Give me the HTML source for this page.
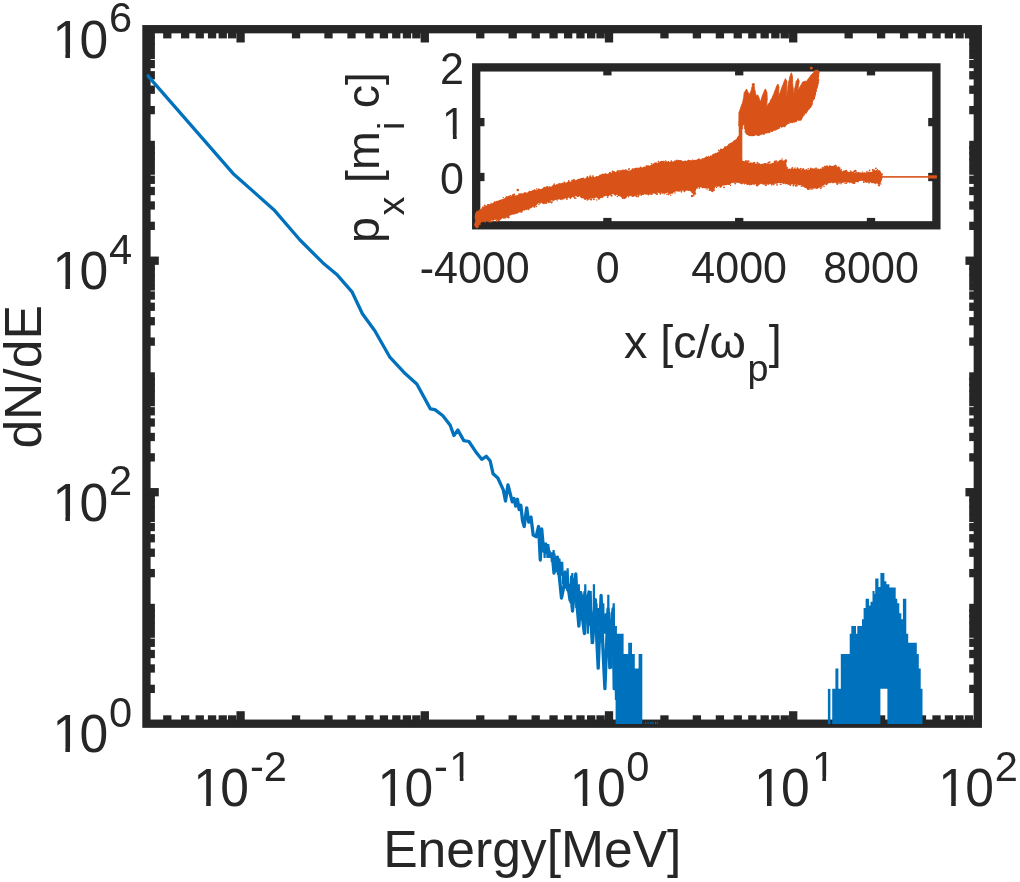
<!DOCTYPE html>
<html lang="en"><head><meta charset="utf-8"><title>dN/dE spectrum</title>
<style>html,body{margin:0;padding:0;background:#fff}svg{display:block}</style></head><body>
<svg width="1020" height="882" viewBox="0 0 1020 882">
<rect width="1020" height="882" fill="#fff"/>
<g id="main-axes">
<rect x="146.45" y="29.2" width="831.35" height="694.5" fill="none" stroke="#262626" stroke-width="8.3"/>
<line x1="167.3" y1="723.7" x2="167.3" y2="715.3" stroke="#262626" stroke-width="8.3"/>
<line x1="167.3" y1="29.2" x2="167.3" y2="38.4" stroke="#262626" stroke-width="8.3"/>
<line x1="185.15" y1="723.7" x2="185.15" y2="715.3" stroke="#262626" stroke-width="8.3"/>
<line x1="185.15" y1="29.2" x2="185.15" y2="38.4" stroke="#262626" stroke-width="8.3"/>
<line x1="199.74" y1="723.7" x2="199.74" y2="715.3" stroke="#262626" stroke-width="8.3"/>
<line x1="199.74" y1="29.2" x2="199.74" y2="38.4" stroke="#262626" stroke-width="8.3"/>
<line x1="212.07" y1="723.7" x2="212.07" y2="715.3" stroke="#262626" stroke-width="8.3"/>
<line x1="212.07" y1="29.2" x2="212.07" y2="38.4" stroke="#262626" stroke-width="8.3"/>
<line x1="222.75" y1="723.7" x2="222.75" y2="715.3" stroke="#262626" stroke-width="8.3"/>
<line x1="222.75" y1="29.2" x2="222.75" y2="38.4" stroke="#262626" stroke-width="8.3"/>
<line x1="232.17" y1="723.7" x2="232.17" y2="715.3" stroke="#262626" stroke-width="8.3"/>
<line x1="232.17" y1="29.2" x2="232.17" y2="38.4" stroke="#262626" stroke-width="8.3"/>
<line x1="240.6" y1="723.7" x2="240.6" y2="711.2" stroke="#262626" stroke-width="8.3"/>
<line x1="240.6" y1="29.2" x2="240.6" y2="42.5" stroke="#262626" stroke-width="8.3"/>
<line x1="296.05" y1="723.7" x2="296.05" y2="715.3" stroke="#262626" stroke-width="8.3"/>
<line x1="296.05" y1="29.2" x2="296.05" y2="38.4" stroke="#262626" stroke-width="8.3"/>
<line x1="328.49" y1="723.7" x2="328.49" y2="715.3" stroke="#262626" stroke-width="8.3"/>
<line x1="328.49" y1="29.2" x2="328.49" y2="38.4" stroke="#262626" stroke-width="8.3"/>
<line x1="351.5" y1="723.7" x2="351.5" y2="715.3" stroke="#262626" stroke-width="8.3"/>
<line x1="351.5" y1="29.2" x2="351.5" y2="38.4" stroke="#262626" stroke-width="8.3"/>
<line x1="369.35" y1="723.7" x2="369.35" y2="715.3" stroke="#262626" stroke-width="8.3"/>
<line x1="369.35" y1="29.2" x2="369.35" y2="38.4" stroke="#262626" stroke-width="8.3"/>
<line x1="383.94" y1="723.7" x2="383.94" y2="715.3" stroke="#262626" stroke-width="8.3"/>
<line x1="383.94" y1="29.2" x2="383.94" y2="38.4" stroke="#262626" stroke-width="8.3"/>
<line x1="396.27" y1="723.7" x2="396.27" y2="715.3" stroke="#262626" stroke-width="8.3"/>
<line x1="396.27" y1="29.2" x2="396.27" y2="38.4" stroke="#262626" stroke-width="8.3"/>
<line x1="406.95" y1="723.7" x2="406.95" y2="715.3" stroke="#262626" stroke-width="8.3"/>
<line x1="406.95" y1="29.2" x2="406.95" y2="38.4" stroke="#262626" stroke-width="8.3"/>
<line x1="416.37" y1="723.7" x2="416.37" y2="715.3" stroke="#262626" stroke-width="8.3"/>
<line x1="416.37" y1="29.2" x2="416.37" y2="38.4" stroke="#262626" stroke-width="8.3"/>
<line x1="424.8" y1="723.7" x2="424.8" y2="711.2" stroke="#262626" stroke-width="8.3"/>
<line x1="424.8" y1="29.2" x2="424.8" y2="42.5" stroke="#262626" stroke-width="8.3"/>
<line x1="480.25" y1="723.7" x2="480.25" y2="715.3" stroke="#262626" stroke-width="8.3"/>
<line x1="480.25" y1="29.2" x2="480.25" y2="38.4" stroke="#262626" stroke-width="8.3"/>
<line x1="512.69" y1="723.7" x2="512.69" y2="715.3" stroke="#262626" stroke-width="8.3"/>
<line x1="512.69" y1="29.2" x2="512.69" y2="38.4" stroke="#262626" stroke-width="8.3"/>
<line x1="535.7" y1="723.7" x2="535.7" y2="715.3" stroke="#262626" stroke-width="8.3"/>
<line x1="535.7" y1="29.2" x2="535.7" y2="38.4" stroke="#262626" stroke-width="8.3"/>
<line x1="553.55" y1="723.7" x2="553.55" y2="715.3" stroke="#262626" stroke-width="8.3"/>
<line x1="553.55" y1="29.2" x2="553.55" y2="38.4" stroke="#262626" stroke-width="8.3"/>
<line x1="568.14" y1="723.7" x2="568.14" y2="715.3" stroke="#262626" stroke-width="8.3"/>
<line x1="568.14" y1="29.2" x2="568.14" y2="38.4" stroke="#262626" stroke-width="8.3"/>
<line x1="580.47" y1="723.7" x2="580.47" y2="715.3" stroke="#262626" stroke-width="8.3"/>
<line x1="580.47" y1="29.2" x2="580.47" y2="38.4" stroke="#262626" stroke-width="8.3"/>
<line x1="591.15" y1="723.7" x2="591.15" y2="715.3" stroke="#262626" stroke-width="8.3"/>
<line x1="591.15" y1="29.2" x2="591.15" y2="38.4" stroke="#262626" stroke-width="8.3"/>
<line x1="600.57" y1="723.7" x2="600.57" y2="715.3" stroke="#262626" stroke-width="8.3"/>
<line x1="600.57" y1="29.2" x2="600.57" y2="38.4" stroke="#262626" stroke-width="8.3"/>
<line x1="609" y1="723.7" x2="609" y2="711.2" stroke="#262626" stroke-width="8.3"/>
<line x1="609" y1="29.2" x2="609" y2="42.5" stroke="#262626" stroke-width="8.3"/>
<line x1="664.45" y1="723.7" x2="664.45" y2="715.3" stroke="#262626" stroke-width="8.3"/>
<line x1="664.45" y1="29.2" x2="664.45" y2="38.4" stroke="#262626" stroke-width="8.3"/>
<line x1="696.89" y1="723.7" x2="696.89" y2="715.3" stroke="#262626" stroke-width="8.3"/>
<line x1="696.89" y1="29.2" x2="696.89" y2="38.4" stroke="#262626" stroke-width="8.3"/>
<line x1="719.9" y1="723.7" x2="719.9" y2="715.3" stroke="#262626" stroke-width="8.3"/>
<line x1="719.9" y1="29.2" x2="719.9" y2="38.4" stroke="#262626" stroke-width="8.3"/>
<line x1="737.75" y1="723.7" x2="737.75" y2="715.3" stroke="#262626" stroke-width="8.3"/>
<line x1="737.75" y1="29.2" x2="737.75" y2="38.4" stroke="#262626" stroke-width="8.3"/>
<line x1="752.34" y1="723.7" x2="752.34" y2="715.3" stroke="#262626" stroke-width="8.3"/>
<line x1="752.34" y1="29.2" x2="752.34" y2="38.4" stroke="#262626" stroke-width="8.3"/>
<line x1="764.67" y1="723.7" x2="764.67" y2="715.3" stroke="#262626" stroke-width="8.3"/>
<line x1="764.67" y1="29.2" x2="764.67" y2="38.4" stroke="#262626" stroke-width="8.3"/>
<line x1="775.35" y1="723.7" x2="775.35" y2="715.3" stroke="#262626" stroke-width="8.3"/>
<line x1="775.35" y1="29.2" x2="775.35" y2="38.4" stroke="#262626" stroke-width="8.3"/>
<line x1="784.77" y1="723.7" x2="784.77" y2="715.3" stroke="#262626" stroke-width="8.3"/>
<line x1="784.77" y1="29.2" x2="784.77" y2="38.4" stroke="#262626" stroke-width="8.3"/>
<line x1="793.2" y1="723.7" x2="793.2" y2="711.2" stroke="#262626" stroke-width="8.3"/>
<line x1="793.2" y1="29.2" x2="793.2" y2="42.5" stroke="#262626" stroke-width="8.3"/>
<line x1="848.65" y1="723.7" x2="848.65" y2="715.3" stroke="#262626" stroke-width="8.3"/>
<line x1="848.65" y1="29.2" x2="848.65" y2="38.4" stroke="#262626" stroke-width="8.3"/>
<line x1="881.09" y1="723.7" x2="881.09" y2="715.3" stroke="#262626" stroke-width="8.3"/>
<line x1="881.09" y1="29.2" x2="881.09" y2="38.4" stroke="#262626" stroke-width="8.3"/>
<line x1="904.1" y1="723.7" x2="904.1" y2="715.3" stroke="#262626" stroke-width="8.3"/>
<line x1="904.1" y1="29.2" x2="904.1" y2="38.4" stroke="#262626" stroke-width="8.3"/>
<line x1="921.95" y1="723.7" x2="921.95" y2="715.3" stroke="#262626" stroke-width="8.3"/>
<line x1="921.95" y1="29.2" x2="921.95" y2="38.4" stroke="#262626" stroke-width="8.3"/>
<line x1="936.54" y1="723.7" x2="936.54" y2="715.3" stroke="#262626" stroke-width="8.3"/>
<line x1="936.54" y1="29.2" x2="936.54" y2="38.4" stroke="#262626" stroke-width="8.3"/>
<line x1="948.87" y1="723.7" x2="948.87" y2="715.3" stroke="#262626" stroke-width="8.3"/>
<line x1="948.87" y1="29.2" x2="948.87" y2="38.4" stroke="#262626" stroke-width="8.3"/>
<line x1="959.55" y1="723.7" x2="959.55" y2="715.3" stroke="#262626" stroke-width="8.3"/>
<line x1="959.55" y1="29.2" x2="959.55" y2="38.4" stroke="#262626" stroke-width="8.3"/>
<line x1="968.97" y1="723.7" x2="968.97" y2="715.3" stroke="#262626" stroke-width="8.3"/>
<line x1="968.97" y1="29.2" x2="968.97" y2="38.4" stroke="#262626" stroke-width="8.3"/>
<line x1="146.45" y1="688.86" x2="154.9" y2="688.86" stroke="#262626" stroke-width="8.3"/>
<line x1="977.8" y1="688.86" x2="969.2" y2="688.86" stroke="#262626" stroke-width="8.3"/>
<line x1="146.45" y1="668.47" x2="154.9" y2="668.47" stroke="#262626" stroke-width="8.3"/>
<line x1="977.8" y1="668.47" x2="969.2" y2="668.47" stroke="#262626" stroke-width="8.3"/>
<line x1="146.45" y1="654.01" x2="154.9" y2="654.01" stroke="#262626" stroke-width="8.3"/>
<line x1="977.8" y1="654.01" x2="969.2" y2="654.01" stroke="#262626" stroke-width="8.3"/>
<line x1="146.45" y1="642.79" x2="154.9" y2="642.79" stroke="#262626" stroke-width="8.3"/>
<line x1="977.8" y1="642.79" x2="969.2" y2="642.79" stroke="#262626" stroke-width="8.3"/>
<line x1="146.45" y1="633.63" x2="154.9" y2="633.63" stroke="#262626" stroke-width="8.3"/>
<line x1="977.8" y1="633.63" x2="969.2" y2="633.63" stroke="#262626" stroke-width="8.3"/>
<line x1="146.45" y1="625.88" x2="154.9" y2="625.88" stroke="#262626" stroke-width="8.3"/>
<line x1="977.8" y1="625.88" x2="969.2" y2="625.88" stroke="#262626" stroke-width="8.3"/>
<line x1="146.45" y1="619.17" x2="154.9" y2="619.17" stroke="#262626" stroke-width="8.3"/>
<line x1="977.8" y1="619.17" x2="969.2" y2="619.17" stroke="#262626" stroke-width="8.3"/>
<line x1="146.45" y1="613.25" x2="154.9" y2="613.25" stroke="#262626" stroke-width="8.3"/>
<line x1="977.8" y1="613.25" x2="969.2" y2="613.25" stroke="#262626" stroke-width="8.3"/>
<line x1="146.45" y1="607.95" x2="154.9" y2="607.95" stroke="#262626" stroke-width="8.3"/>
<line x1="977.8" y1="607.95" x2="969.2" y2="607.95" stroke="#262626" stroke-width="8.3"/>
<line x1="146.45" y1="573.11" x2="154.9" y2="573.11" stroke="#262626" stroke-width="8.3"/>
<line x1="977.8" y1="573.11" x2="969.2" y2="573.11" stroke="#262626" stroke-width="8.3"/>
<line x1="146.45" y1="552.72" x2="154.9" y2="552.72" stroke="#262626" stroke-width="8.3"/>
<line x1="977.8" y1="552.72" x2="969.2" y2="552.72" stroke="#262626" stroke-width="8.3"/>
<line x1="146.45" y1="538.26" x2="154.9" y2="538.26" stroke="#262626" stroke-width="8.3"/>
<line x1="977.8" y1="538.26" x2="969.2" y2="538.26" stroke="#262626" stroke-width="8.3"/>
<line x1="146.45" y1="527.04" x2="154.9" y2="527.04" stroke="#262626" stroke-width="8.3"/>
<line x1="977.8" y1="527.04" x2="969.2" y2="527.04" stroke="#262626" stroke-width="8.3"/>
<line x1="146.45" y1="517.88" x2="154.9" y2="517.88" stroke="#262626" stroke-width="8.3"/>
<line x1="977.8" y1="517.88" x2="969.2" y2="517.88" stroke="#262626" stroke-width="8.3"/>
<line x1="146.45" y1="510.13" x2="154.9" y2="510.13" stroke="#262626" stroke-width="8.3"/>
<line x1="977.8" y1="510.13" x2="969.2" y2="510.13" stroke="#262626" stroke-width="8.3"/>
<line x1="146.45" y1="503.42" x2="154.9" y2="503.42" stroke="#262626" stroke-width="8.3"/>
<line x1="977.8" y1="503.42" x2="969.2" y2="503.42" stroke="#262626" stroke-width="8.3"/>
<line x1="146.45" y1="497.5" x2="154.9" y2="497.5" stroke="#262626" stroke-width="8.3"/>
<line x1="977.8" y1="497.5" x2="969.2" y2="497.5" stroke="#262626" stroke-width="8.3"/>
<line x1="146.45" y1="492.2" x2="158.8" y2="492.2" stroke="#262626" stroke-width="8.3"/>
<line x1="977.8" y1="492.2" x2="965.45" y2="492.2" stroke="#262626" stroke-width="8.3"/>
<line x1="146.45" y1="457.36" x2="154.9" y2="457.36" stroke="#262626" stroke-width="8.3"/>
<line x1="977.8" y1="457.36" x2="969.2" y2="457.36" stroke="#262626" stroke-width="8.3"/>
<line x1="146.45" y1="436.97" x2="154.9" y2="436.97" stroke="#262626" stroke-width="8.3"/>
<line x1="977.8" y1="436.97" x2="969.2" y2="436.97" stroke="#262626" stroke-width="8.3"/>
<line x1="146.45" y1="422.51" x2="154.9" y2="422.51" stroke="#262626" stroke-width="8.3"/>
<line x1="977.8" y1="422.51" x2="969.2" y2="422.51" stroke="#262626" stroke-width="8.3"/>
<line x1="146.45" y1="411.29" x2="154.9" y2="411.29" stroke="#262626" stroke-width="8.3"/>
<line x1="977.8" y1="411.29" x2="969.2" y2="411.29" stroke="#262626" stroke-width="8.3"/>
<line x1="146.45" y1="402.13" x2="154.9" y2="402.13" stroke="#262626" stroke-width="8.3"/>
<line x1="977.8" y1="402.13" x2="969.2" y2="402.13" stroke="#262626" stroke-width="8.3"/>
<line x1="146.45" y1="394.38" x2="154.9" y2="394.38" stroke="#262626" stroke-width="8.3"/>
<line x1="977.8" y1="394.38" x2="969.2" y2="394.38" stroke="#262626" stroke-width="8.3"/>
<line x1="146.45" y1="387.67" x2="154.9" y2="387.67" stroke="#262626" stroke-width="8.3"/>
<line x1="977.8" y1="387.67" x2="969.2" y2="387.67" stroke="#262626" stroke-width="8.3"/>
<line x1="146.45" y1="381.75" x2="154.9" y2="381.75" stroke="#262626" stroke-width="8.3"/>
<line x1="977.8" y1="381.75" x2="969.2" y2="381.75" stroke="#262626" stroke-width="8.3"/>
<line x1="146.45" y1="376.45" x2="154.9" y2="376.45" stroke="#262626" stroke-width="8.3"/>
<line x1="977.8" y1="376.45" x2="969.2" y2="376.45" stroke="#262626" stroke-width="8.3"/>
<line x1="146.45" y1="341.61" x2="154.9" y2="341.61" stroke="#262626" stroke-width="8.3"/>
<line x1="977.8" y1="341.61" x2="969.2" y2="341.61" stroke="#262626" stroke-width="8.3"/>
<line x1="146.45" y1="321.22" x2="154.9" y2="321.22" stroke="#262626" stroke-width="8.3"/>
<line x1="977.8" y1="321.22" x2="969.2" y2="321.22" stroke="#262626" stroke-width="8.3"/>
<line x1="146.45" y1="306.76" x2="154.9" y2="306.76" stroke="#262626" stroke-width="8.3"/>
<line x1="977.8" y1="306.76" x2="969.2" y2="306.76" stroke="#262626" stroke-width="8.3"/>
<line x1="146.45" y1="295.54" x2="154.9" y2="295.54" stroke="#262626" stroke-width="8.3"/>
<line x1="977.8" y1="295.54" x2="969.2" y2="295.54" stroke="#262626" stroke-width="8.3"/>
<line x1="146.45" y1="286.38" x2="154.9" y2="286.38" stroke="#262626" stroke-width="8.3"/>
<line x1="977.8" y1="286.38" x2="969.2" y2="286.38" stroke="#262626" stroke-width="8.3"/>
<line x1="146.45" y1="278.63" x2="154.9" y2="278.63" stroke="#262626" stroke-width="8.3"/>
<line x1="977.8" y1="278.63" x2="969.2" y2="278.63" stroke="#262626" stroke-width="8.3"/>
<line x1="146.45" y1="271.92" x2="154.9" y2="271.92" stroke="#262626" stroke-width="8.3"/>
<line x1="977.8" y1="271.92" x2="969.2" y2="271.92" stroke="#262626" stroke-width="8.3"/>
<line x1="146.45" y1="266" x2="154.9" y2="266" stroke="#262626" stroke-width="8.3"/>
<line x1="977.8" y1="266" x2="969.2" y2="266" stroke="#262626" stroke-width="8.3"/>
<line x1="146.45" y1="260.7" x2="158.8" y2="260.7" stroke="#262626" stroke-width="8.3"/>
<line x1="977.8" y1="260.7" x2="965.45" y2="260.7" stroke="#262626" stroke-width="8.3"/>
<line x1="146.45" y1="225.86" x2="154.9" y2="225.86" stroke="#262626" stroke-width="8.3"/>
<line x1="977.8" y1="225.86" x2="969.2" y2="225.86" stroke="#262626" stroke-width="8.3"/>
<line x1="146.45" y1="205.47" x2="154.9" y2="205.47" stroke="#262626" stroke-width="8.3"/>
<line x1="977.8" y1="205.47" x2="969.2" y2="205.47" stroke="#262626" stroke-width="8.3"/>
<line x1="146.45" y1="191.01" x2="154.9" y2="191.01" stroke="#262626" stroke-width="8.3"/>
<line x1="977.8" y1="191.01" x2="969.2" y2="191.01" stroke="#262626" stroke-width="8.3"/>
<line x1="146.45" y1="179.79" x2="154.9" y2="179.79" stroke="#262626" stroke-width="8.3"/>
<line x1="977.8" y1="179.79" x2="969.2" y2="179.79" stroke="#262626" stroke-width="8.3"/>
<line x1="146.45" y1="170.63" x2="154.9" y2="170.63" stroke="#262626" stroke-width="8.3"/>
<line x1="977.8" y1="170.63" x2="969.2" y2="170.63" stroke="#262626" stroke-width="8.3"/>
<line x1="146.45" y1="162.88" x2="154.9" y2="162.88" stroke="#262626" stroke-width="8.3"/>
<line x1="977.8" y1="162.88" x2="969.2" y2="162.88" stroke="#262626" stroke-width="8.3"/>
<line x1="146.45" y1="156.17" x2="154.9" y2="156.17" stroke="#262626" stroke-width="8.3"/>
<line x1="977.8" y1="156.17" x2="969.2" y2="156.17" stroke="#262626" stroke-width="8.3"/>
<line x1="146.45" y1="150.25" x2="154.9" y2="150.25" stroke="#262626" stroke-width="8.3"/>
<line x1="977.8" y1="150.25" x2="969.2" y2="150.25" stroke="#262626" stroke-width="8.3"/>
<line x1="146.45" y1="144.95" x2="154.9" y2="144.95" stroke="#262626" stroke-width="8.3"/>
<line x1="977.8" y1="144.95" x2="969.2" y2="144.95" stroke="#262626" stroke-width="8.3"/>
<line x1="146.45" y1="110.11" x2="154.9" y2="110.11" stroke="#262626" stroke-width="8.3"/>
<line x1="977.8" y1="110.11" x2="969.2" y2="110.11" stroke="#262626" stroke-width="8.3"/>
<line x1="146.45" y1="89.72" x2="154.9" y2="89.72" stroke="#262626" stroke-width="8.3"/>
<line x1="977.8" y1="89.72" x2="969.2" y2="89.72" stroke="#262626" stroke-width="8.3"/>
<line x1="146.45" y1="75.26" x2="154.9" y2="75.26" stroke="#262626" stroke-width="8.3"/>
<line x1="977.8" y1="75.26" x2="969.2" y2="75.26" stroke="#262626" stroke-width="8.3"/>
<line x1="146.45" y1="64.04" x2="154.9" y2="64.04" stroke="#262626" stroke-width="8.3"/>
<line x1="977.8" y1="64.04" x2="969.2" y2="64.04" stroke="#262626" stroke-width="8.3"/>
<line x1="146.45" y1="54.88" x2="154.9" y2="54.88" stroke="#262626" stroke-width="8.3"/>
<line x1="977.8" y1="54.88" x2="969.2" y2="54.88" stroke="#262626" stroke-width="8.3"/>
<line x1="146.45" y1="47.13" x2="154.9" y2="47.13" stroke="#262626" stroke-width="8.3"/>
<line x1="977.8" y1="47.13" x2="969.2" y2="47.13" stroke="#262626" stroke-width="8.3"/>
<line x1="146.45" y1="40.42" x2="154.9" y2="40.42" stroke="#262626" stroke-width="8.3"/>
<line x1="977.8" y1="40.42" x2="969.2" y2="40.42" stroke="#262626" stroke-width="8.3"/>
<line x1="146.45" y1="34.5" x2="154.9" y2="34.5" stroke="#262626" stroke-width="8.3"/>
<line x1="977.8" y1="34.5" x2="969.2" y2="34.5" stroke="#262626" stroke-width="8.3"/>
</g>
<clipPath id="cm"><rect x="146.45" y="29.2" width="831.35" height="694.8"/></clipPath>
<g id="main-data" clip-path="url(#cm)">
<polyline fill="none" stroke="#0072BD" stroke-width="3.3" stroke-linejoin="round" points="146.8,74.7 194.4,129.2 233,173.4 273.8,209.7 300,240 322.7,262.7 337.4,275.1 352.2,292.2 362.4,313.7 374.8,330.7 389.6,356.8 405.4,373.8 416.8,384 430.4,408.9 434.9,409.6 442.9,415.7 450.2,425.3 453.9,435.5 457.9,430.1 463.8,440.6 468.9,441.5 475.7,451.7 481.7,459.3 486.3,456.3 490.2,461 493.1,473.8 497.8,478 503.3,489.9 505.5,501 508,484.8 512.3,501.8 514,498.4 515.7,506.1 517.4,499.3 519.1,509.5 520.8,505.2 522.5,520.5 524.2,526.5 526.7,507.8 528.8,522.2 531,517.1 533.2,535 536.1,536.7 538.6,526.5 540.3,560 541.7,529 543.7,551.2 547.5,546.1 549.7,556.3 552.2,553.7 554,573 557.4,557.2 561.5,598 564.5,583 567.5,582.5 570,600 571,588 572.5,611 575.8,574 577.3,608 578.9,626 580.9,593 582.5,618 584.4,633.5 586.5,606 589.1,592 590.8,622 592.6,642.6 595.3,599.6 596.8,640 598.2,668.2 601.1,595.5 603,650 604.9,688.7 608,609 609.8,667.6 611.5,625 613.1,608.8 614.2,688.7 615.5,634.5 616.5,700"/>
<polyline fill="none" stroke="#0072BD" stroke-width="2.2" stroke-linejoin="miter" points="541,544.5 541.36,544.97 541.72,539.11 542.08,550.54 542.44,545.46 542.8,544.03 543.16,546.43 543.52,548.96 543.88,545.46 544.24,543.09 544.6,558.02 544.96,546.43 545.32,542.64 545.68,545.46 546.04,542.64 546.4,553.85 546.76,545.94 547.12,550.54 547.48,558.02 547.84,546.43 548.2,544.03 548.56,548.44 548.92,555.01 549.28,557.4 549.64,553.85 550,553.28 550.36,555.6 550.72,557.4 551.08,556.19 551.44,554.43 551.8,561.89 552.16,552.72 552.52,555.6 552.88,556.19 553.24,563.25 553.6,550.01 553.96,558.02 554.32,553.28 554.68,556.19 555.04,561.22 555.4,563.94 555.76,570.65 556.12,556.19 556.48,572.27 556.84,569.86 557.2,568.31 557.56,563.94 557.92,573.95 558.28,573.95 558.64,566.81 559,569.08 559.36,558.64 559.72,561.89 560.08,573.11 560.44,561.89 560.8,575.68 561.16,573.11 561.52,563.94 561.88,566.08 562.24,561.89 562.6,573.11 562.96,584.32 563.32,578.4 563.68,581.28 564.04,584.32 564.4,581.28 564.76,573.11 565.12,570.65 565.48,578.4 565.84,587.57 566.2,587.57 566.56,573.11 566.92,573.11 567.28,591.04 567.64,568.31 568,581.28 568.36,591.04 568.72,591.04 569.08,587.57 569.44,584.32 569.8,591.04 570.16,594.76 570.52,603.16 570.88,578.4 571.24,575.68 571.6,598.78 571.96,607.95 572.32,573.11 572.68,584.32 573.04,591.04 573.4,578.4 573.76,584.32 574.12,594.76 574.48,587.57 574.84,598.78 575.2,575.68 575.56,587.57 575.92,591.04 576.28,607.95 576.64,587.57 577,607.95 577.36,598.78 577.72,607.95 578.08,594.76 578.44,598.78 578.8,584.32 579.16,603.16 579.52,613.25 579.88,598.78 580.24,594.76 580.6,591.04 580.96,594.76 581.32,598.78 581.68,603.16 582.04,594.76 582.4,619.17 582.76,598.78 583.12,603.16 583.48,613.25 583.84,603.16 584.2,594.76 584.56,591.04 584.92,619.17 585.28,584.32 585.64,607.95 586,613.25 586.36,607.95 586.72,598.78 587.08,598.78 587.44,594.76 587.8,633.63 588.16,613.25 588.52,603.16 588.88,591.04 589.24,619.17 589.6,607.95 589.96,619.17 590.32,625.88 590.68,591.04 591.04,607.95 591.4,613.25 591.76,642.79 592.12,642.79 592.48,613.25 592.84,613.25 593.2,613.25 593.56,633.63 593.92,584.32 594.28,625.88 594.64,625.88 595,607.95 595.36,613.25 595.72,613.25 596.08,607.95 596.44,603.16 596.8,625.88 597.16,633.63 597.52,613.25 597.88,619.17 598.24,607.95 598.6,613.25 598.96,613.25 599.32,625.88 599.68,625.88 600.04,613.25 600.4,642.79 600.76,613.25 601.12,619.17 601.48,607.95 601.84,613.25 602.2,619.17 602.56,619.17 602.92,619.17 603.28,603.16 603.64,633.63 604,619.17 604.36,625.88 604.72,619.17 605.08,633.63 605.44,619.17 605.8,613.25 606.16,619.17 606.52,625.88 606.88,633.63 607.24,625.88 607.6,642.79 607.96,633.63 608.32,594.76 608.68,654.01 609.04,613.25 609.4,613.25 609.76,633.63 610.12,642.79 610.48,625.88 610.84,619.17 611.2,642.79 611.56,668.47 611.92,625.88 612.28,619.17 612.64,633.63 613,642.79 613.36,619.17 613.72,603.16 614.08,654.01 614.44,625.88 614.8,668.47 615.16,642.79 615.52,654.01 615.88,625.88"/>
<polygon fill="#0072BD" points="615.6,725.7 615.6,633.63 623.6,633.63 623.6,654.01 628.2,654.01 628.2,642.79 632,642.79 632,654.01 634.8,654.01 634.8,668.47 638.6,668.47 638.6,654.01 642.3,654.01 642.3,725.7"/>
<rect x="645.2" y="721.8" width="0.9" height="2.2" fill="#0072BD"/>
<rect x="647.6" y="721.8" width="0.9" height="2.2" fill="#0072BD"/>
<rect x="650.3" y="721.8" width="0.9" height="2.2" fill="#0072BD"/>
<rect x="652.4" y="721.8" width="0.9" height="2.2" fill="#0072BD"/>
<rect x="655.1" y="721.8" width="0.9" height="2.2" fill="#0072BD"/>
<rect x="656.9" y="721.8" width="0.9" height="2.2" fill="#0072BD"/>
<rect x="1" y="721.8" width="0.9" height="2.2" fill="#0072BD"/>
<polygon fill="#0072BD" points="832.2,725.7 832.2,688.86 835.4,688.86 835.4,668.47 838.4,668.47 838.4,688.86 840.8,688.86 840.8,654.01 849.7,654.01 849.7,633.63 851.3,633.63 851.3,625.88 856,625.88 856,633.63 857.3,633.63 857.3,625.88 862,625.88 862,619.17 863.6,619.17 863.6,607.95 865.6,607.95 865.6,598.78 869,598.78 869,605.5 870.5,605.5 870.5,601.81 872.5,601.81 872.5,591.04 874.6,591.04 874.6,593.99 875.2,593.99 875.2,578.4 878.5,578.4 878.5,586.9 880.4,586.9 880.4,573.11 884.4,573.11 884.4,581.28 886.4,581.28 886.4,584.32 889.4,584.32 889.4,587.57 895.7,587.57 895.7,598.78 897.3,598.78 897.3,603.16 899.3,603.16 899.3,613.25 901.3,613.25 901.3,619.17 902.9,619.17 902.9,598.78 906.3,598.78 906.3,633.63 908.2,633.63 908.2,642.79 916.8,642.79 916.8,654.01 918.8,654.01 918.8,668.47 920.7,668.47 920.7,688.86 922.5,688.86 922.5,725.7 887.4,725.7 887.4,688.86 880.4,688.86 880.4,725.7"/>
<rect x="827.9" y="688.86" width="2.5" height="36.84" fill="#0072BD"/>
</g>
<g id="main-labels" fill="#262626" font-family='"Liberation Sans", sans-serif'>
<text font-size="51.6" transform="matrix(1 0 0 1.04 0 -30.09)"><tspan x="52.4" y="752.3" letter-spacing="-1.6">10</tspan><tspan x="108.9" y="727.83" font-size="41.6">0</tspan></text>
<text font-size="51.6" transform="matrix(1 0 0 1.04 0 -20.83)"><tspan x="52.4" y="520.8" letter-spacing="-1.6">10</tspan><tspan x="108.9" y="496.33" font-size="41.6">2</tspan></text>
<text font-size="51.6" transform="matrix(1 0 0 1.04 0 -11.57)"><tspan x="52.4" y="289.3" letter-spacing="-1.6">10</tspan><tspan x="108.9" y="264.83" font-size="41.6">4</tspan></text>
<text font-size="51.6" transform="matrix(1 0 0 1.04 0 -2.31)"><tspan x="52.4" y="57.8" letter-spacing="-1.6">10</tspan><tspan x="108.9" y="33.33" font-size="41.6">6</tspan></text>
<text font-size="51.6" transform="matrix(1 0 0 1.04 0 -32.25)"><tspan x="193.2" y="806.2" letter-spacing="-1.6">10</tspan><tspan x="249.9" y="781.73" font-size="41.6">-2</tspan></text>
<text font-size="51.6" transform="matrix(1 0 0 1.04 0 -32.25)"><tspan x="377.4" y="806.2" letter-spacing="-1.6">10</tspan><tspan x="434.1" y="781.73" font-size="41.6" letter-spacing="1.4">-1</tspan></text>
<text font-size="51.6" transform="matrix(1 0 0 1.04 0 -32.25)"><tspan x="569.8" y="806.2" letter-spacing="-1.6">10</tspan><tspan x="626.3" y="781.73" font-size="41.6">0</tspan></text>
<text font-size="51.6" transform="matrix(1 0 0 1.04 0 -32.25)"><tspan x="754" y="806.2" letter-spacing="-1.6">10</tspan><tspan x="811.9" y="781.73" font-size="41.6">1</tspan></text>
<text font-size="51.6" transform="matrix(1 0 0 1.04 0 -32.25)"><tspan x="938.2" y="806.2" letter-spacing="-1.6">10</tspan><tspan x="994.7" y="781.73" font-size="41.6">2</tspan></text>
<text x="383.2" y="867.2" font-size="51.6" text-anchor="start">Energy[MeV]</text>
<text transform="translate(40.8 448.6) rotate(-90)" font-size="51.6">dN/dE</text>
</g>
<g id="inset-axes">
<rect x="476.2" y="67.4" width="460.2" height="157.9" fill="#fff" stroke="#262626" stroke-width="8.3"/>
<line x1="607.4" y1="67.4" x2="607.4" y2="75.4" stroke="#262626" stroke-width="8.3"/>
<line x1="607.4" y1="225.3" x2="607.4" y2="217.9" stroke="#262626" stroke-width="8.3"/>
<line x1="739.2" y1="67.4" x2="739.2" y2="75.4" stroke="#262626" stroke-width="8.3"/>
<line x1="739.2" y1="225.3" x2="739.2" y2="217.9" stroke="#262626" stroke-width="8.3"/>
<line x1="871" y1="67.4" x2="871" y2="75.4" stroke="#262626" stroke-width="8.3"/>
<line x1="871" y1="225.3" x2="871" y2="217.9" stroke="#262626" stroke-width="8.3"/>
<line x1="476.2" y1="177" x2="484.5" y2="177" stroke="#262626" stroke-width="8.3"/>
<line x1="936.4" y1="177" x2="928.2" y2="177" stroke="#262626" stroke-width="8.3"/>
<line x1="476.2" y1="122.1" x2="484.5" y2="122.1" stroke="#262626" stroke-width="8.3"/>
<line x1="936.4" y1="122.1" x2="928.2" y2="122.1" stroke="#262626" stroke-width="8.3"/>
</g>
<clipPath id="ci"><rect x="473.4" y="66.2" width="463.4" height="162.3"/></clipPath>
<g id="inset-data" clip-path="url(#ci)" fill="#D95319">
<polygon fill="#D95319" points="476.2,211.57 477.4,210.73 478.6,210.58 479.8,210.27 481.01,209.2 482.21,207.23 483.41,207.37 484.61,206.3 485.81,205.48 487.01,205.55 488.21,203.89 489.42,204.2 490.62,204.03 491.82,203.54 493.02,202.9 494.22,201.45 495.42,201.65 496.62,200.84 497.82,200.91 499.03,200.1 500.23,199.72 501.43,199.38 502.63,198.99 503.83,199.01 505.03,197.56 506.23,197.08 507.44,196.47 508.64,195.88 509.84,196.59 511.04,196.23 512.24,194.72 513.44,194.88 514.64,195.54 515.85,195.27 517.05,195.24 518.25,195.05 519.45,193.74 520.65,193.15 521.85,193.23 523.05,193.43 524.25,192.44 525.46,192.54 526.66,192.54 527.86,192.53 529.06,191.33 530.26,190.93 531.46,190.91 532.66,190.18 533.87,189.88 535.07,189.5 536.27,190.26 537.47,190.04 538.67,188.35 539.87,189.27 541.07,189.04 542.28,188.43 543.48,187.57 544.68,188.1 545.88,186.62 547.08,186.27 548.28,187.42 549.48,185.95 550.68,186.77 551.89,186.21 553.09,184.77 554.29,184.54 555.49,185.12 556.69,184.01 557.89,184.54 559.09,184.24 560.3,183.23 561.5,183.31 562.7,182.58 563.9,183.33 565.1,182.64 566.3,182.43 567.5,182.02 568.71,180.83 569.91,181.85 571.11,181.38 572.31,180.66 573.51,180.48 574.71,180.03 575.91,180.15 577.12,179.49 578.32,178.79 579.52,178.87 580.72,178.19 581.92,177.67 583.12,178.31 584.32,178.69 585.52,178.26 586.73,177.27 587.93,177.56 589.13,177.5 590.33,177.31 591.53,176.94 592.73,176.83 593.93,176.89 595.14,176.9 596.34,176.02 597.54,176.15 598.74,175.69 599.94,174.49 601.14,174.42 602.34,174.21 603.55,173.97 604.75,173.89 605.95,173.28 607.15,174.11 608.35,173.4 609.55,172.53 610.75,172.77 611.95,172.84 613.16,171.33 614.36,171.79 615.56,172.14 616.76,171.08 617.96,171.75 619.16,171.5 620.36,170.6 621.57,170.18 622.77,171.11 623.97,170.36 625.17,170.12 626.37,170.17 627.57,170.46 628.77,170.6 629.98,170.45 631.18,169.98 632.38,168.79 633.58,168.87 634.78,168.05 635.98,168.12 637.18,168.11 638.38,167.61 639.59,167.85 640.79,167.06 641.99,167.66 643.19,167.04 644.39,166.5 645.59,166.79 646.79,165.81 648,164.91 649.2,165.81 650.4,165.26 651.6,165.05 652.8,163.71 654,163.25 655.2,163.54 656.41,162.25 657.61,163.15 658.81,162.24 660.01,162 661.21,161.13 662.41,161.43 663.61,161.58 664.82,162.4 666.02,160.99 667.22,161.63 668.42,160.74 669.62,162.09 670.82,161.66 672.02,161.69 673.22,161.52 674.43,160.54 675.63,160.58 676.83,160.2 678.03,160.97 679.23,160.16 680.43,160.27 681.63,160.19 682.84,161.33 684.04,161.06 685.24,160.2 686.44,161.24 687.64,159.88 688.84,159.76 690.04,160.02 691.25,160.58 692.45,159.32 693.65,160.31 694.85,159.79 696.05,160.08 697.25,159.21 698.45,158.62 699.65,158.59 700.86,159.47 702.06,159 703.26,159.18 704.46,157.79 705.66,157.43 706.86,156.84 708.06,157.37 709.27,156.65 710.47,155.29 711.67,155.71 712.87,153.93 714.07,153.9 715.27,152.86 716.47,152.96 717.68,152.18 718.88,151.41 720.08,149.92 721.28,148.86 722.48,148.91 723.68,148.1 724.88,146.1 726.08,146.53 727.29,145.72 728.49,143.96 729.69,143.33 730.89,142.69 732.09,142.29 733.29,141 734.49,139.95 735.7,139.51 736.9,138.17 738.1,136.1 739.3,135.58 742.4,161.06 743.61,161.11 744.81,161.37 746.02,161.26 747.23,161.58 748.43,162.44 749.64,162.83 750.85,162.32 752.06,163.11 753.26,162.12 754.47,162.92 755.68,163.45 756.88,163.68 758.09,163.22 759.3,162.96 760.5,164.21 761.71,163.63 762.92,163.68 764.12,163.16 765.33,162.77 766.54,163.48 767.74,163.2 768.95,163.95 770.16,163.57 771.37,163.48 772.57,162.82 773.78,162.76 774.99,161.41 776.19,162.43 777.4,161.41 778.61,161.07 779.81,160.06 781.02,159.55 782.23,160.18 783.43,160.45 784.64,160.69 785.85,160.37 787.06,168.18 788.26,168.71 789.47,168.58 790.68,169.09 791.88,167.85 793.09,169.03 794.3,167.88 795.5,168.94 796.71,168.87 797.92,168.21 799.12,168.84 800.33,169.32 801.54,169.71 802.74,168.52 803.95,169.29 805.16,169.83 806.37,168.75 807.57,169.91 808.78,169.89 809.99,168.85 811.19,168.55 812.4,168.36 813.61,168.39 814.81,168.62 816.02,169 817.23,169.28 818.43,168.58 819.64,169.13 820.85,168.2 822.06,168.48 823.26,167.12 824.47,167.39 825.68,166.36 826.88,166.14 828.09,166.82 829.3,165.32 830.5,165.58 831.71,165.94 832.92,165.94 834.12,165.15 835.33,165.28 836.54,166.22 837.74,166.99 838.95,167.7 840.16,169.52 841.37,170.41 842.57,171.53 843.78,170.13 844.99,170.46 846.19,170.41 847.4,171.29 848.61,172.06 849.81,171.89 851.02,170.94 852.23,171.74 853.43,171.57 854.64,172.68 855.85,172.36 857.06,172.32 858.26,171.88 859.47,172.29 860.68,172.55 861.88,172.43 863.09,172.85 864.3,172.2 865.5,172.58 866.71,173.2 867.92,171.98 869.12,171.86 870.33,171.97 871.54,171.78 872.74,171.37 873.95,170.51 875.16,170.76 876.37,169.65 877.57,170.56 878.78,169.91 879.99,170.5 881.19,172.62 882.4,175.06 882.4,178.58 881.19,181.81 879.98,184.68 878.77,184.65 877.56,183.84 876.35,183.27 875.14,184.47 873.93,182.89 872.72,183.22 871.51,183.35 870.3,181.88 869.09,182.28 867.88,181.82 866.67,182.46 865.46,182.21 864.24,181.16 863.03,181.35 861.82,180.62 860.61,181.12 859.4,181.05 858.19,182.48 856.98,181.98 855.77,182.09 854.56,182.76 853.35,182.91 852.14,183.06 850.93,182.2 849.72,183.44 848.51,182.31 847.3,182.7 846.09,182.45 844.88,181.9 843.67,182.69 842.46,182.87 841.25,183.09 840.04,183.39 838.83,182.18 837.62,183.88 836.41,183.42 835.2,182.72 833.99,182.8 832.78,183.53 831.57,182.61 830.36,183.34 829.14,182.94 827.93,183.87 826.72,185.43 825.51,184.47 824.3,184.74 823.09,185.94 821.88,185.83 820.67,187.06 819.46,187.81 818.25,188.16 817.04,189 815.83,188.79 814.62,188.37 813.41,189 812.2,188.01 810.99,188.75 809.78,188.76 808.57,189.62 807.36,189.7 806.15,187.91 804.94,188.02 803.73,186.96 802.52,185.86 801.31,185.51 800.1,185.22 798.89,185.62 797.68,184.41 796.47,185.69 795.26,184.62 794.04,184.94 792.83,184.23 791.62,184.46 790.41,184.79 789.2,184.99 787.99,184.85 786.78,184.11 785.57,184.54 784.36,183.48 783.15,184.3 781.94,182.94 780.73,183.19 779.52,182.88 778.31,183.03 777.1,183.71 775.89,183.68 774.68,183.79 773.47,184.27 772.26,184.85 771.05,184.65 769.84,183.69 768.63,185.04 767.42,184.38 766.21,183.75 765,184.72 763.79,184.64 762.58,184.55 761.37,183.82 760.16,184 758.94,185.19 757.73,184.92 756.52,185.11 755.31,183.72 754.1,185.14 752.89,184.36 751.68,185.2 750.47,184.97 749.26,184.51 748.05,185.06 746.84,185.01 745.63,183.42 744.42,184.78 743.21,183.19 742,184.43 742,184.46 740.8,184.02 739.59,183.22 738.39,182.7 737.19,182.95 735.99,182.55 734.78,183 733.58,182.77 732.38,182.75 731.18,183.19 729.97,185.02 728.77,184.99 727.57,184.65 726.36,185.29 725.16,185.16 723.96,185.45 722.76,185.44 721.55,187.14 720.35,187.24 719.15,186.37 717.95,186.9 716.74,186.55 715.54,186.69 714.34,189.11 713.13,191.94 711.93,192.33 710.73,191.09 709.53,189.86 708.32,188.16 707.12,188.29 705.92,188.38 704.72,188.17 703.51,188.02 702.31,188.57 701.11,186.96 699.9,187.99 698.7,187.1 697.5,188.09 696.3,188.96 695.09,193.36 693.89,195.63 692.69,193.8 691.49,192.77 690.28,190.9 689.08,191.03 687.88,190.7 686.67,190.46 685.47,190.95 684.27,190.9 683.07,190.56 681.86,191.12 680.66,190.74 679.46,191.78 678.26,191.4 677.05,191.41 675.85,191.2 674.65,192.15 673.44,192.6 672.24,194.22 671.04,193.53 669.84,194.38 668.63,193.49 667.43,192.53 666.23,193.18 665.03,193.72 663.82,193.27 662.62,194.09 661.42,192.56 660.21,193.42 659.01,192.91 657.81,192.82 656.61,192.91 655.4,194.06 654.2,193.54 653,193.74 651.8,193.58 650.59,194.66 649.39,194.39 648.19,193.97 646.98,194.73 645.78,194.62 644.58,194.27 643.38,195.06 642.17,194.91 640.97,194.97 639.77,194.22 638.57,195.64 637.36,195.28 636.16,195.16 634.96,195.93 633.75,196.42 632.55,196.22 631.35,196.57 630.15,195.6 628.94,196.68 627.74,195.66 626.54,197.8 625.34,198.82 624.13,198.88 622.93,197.57 621.73,197.53 620.52,196.59 619.32,196.14 618.12,196.01 616.92,194.56 615.71,195.63 614.51,195.48 613.31,194.11 612.11,194.34 610.9,195.58 609.7,195.33 608.5,196.16 607.29,196.51 606.09,195.84 604.89,196.34 603.69,196.43 602.48,198.24 601.28,197.7 600.08,198.53 598.88,198.59 597.67,198.44 596.47,197.41 595.27,197.83 594.06,198.25 592.86,198.39 591.66,198.38 590.46,198.46 589.25,199.01 588.05,200.13 586.85,198.69 585.65,199.9 584.44,199.69 583.24,198.35 582.04,198.22 580.83,197.88 579.63,195.9 578.43,196.89 577.23,196.91 576.02,195.88 574.82,196.44 573.62,197.51 572.42,196.95 571.21,198.19 570.01,198.19 568.81,197.61 567.6,197.93 566.4,198.15 565.2,198.34 564,199.27 562.79,199.38 561.59,199.38 560.39,200.08 559.19,199.22 557.98,199.46 556.78,200.22 555.58,199.68 554.37,200.5 553.17,201.27 551.97,200.31 550.77,200.81 549.56,201.73 548.36,202.25 547.16,202.24 545.96,203.1 544.75,202.83 543.55,203.57 542.35,203.8 541.14,202.49 539.94,204.28 538.74,203.06 537.54,204.04 536.33,205.47 535.13,206.38 533.93,206.29 532.73,206.86 531.52,208.14 530.32,208.22 529.12,209.12 527.91,208.98 526.71,210.15 525.51,209.65 524.31,210.78 523.1,210.42 521.9,212.46 520.7,212.38 519.5,212.16 518.29,212.97 517.09,213.83 515.89,213.79 514.68,214.35 513.48,214.83 512.28,214.47 511.08,215.01 509.87,215.39 508.67,217.25 507.47,217.69 506.27,217.28 505.06,218.26 503.86,219.04 502.66,217.96 501.45,219.16 500.25,220.08 499.05,221.36 497.85,220.9 496.64,219.82 495.44,219.73 494.24,220.03 493.04,220.64 491.83,219.99 490.63,221.48 489.43,221.91 488.22,221.87 487.02,221.6 485.82,220.68 484.62,222.14 483.41,221.46 482.21,222.18 481.01,222.43 479.81,224.67 478.6,225.23 477.4,228.72 475.6,227.4 474,224.7 475.4,220.8 474.6,216.9 475.2,213.5"/>
<rect x="738.7" y="112" width="3.6" height="52"/>
<polygon stroke="#D95319" stroke-width="0.9" stroke-linejoin="round" points="738.78,125.85 738.74,124.43 739.01,123.11 738.83,121.5 739.1,120.25 739.1,118.66 739.1,117.25 739.18,116.08 739.1,114.44 739.27,113.33 739.28,111.74 739.67,110.53 740.35,109.04 740.61,107.88 741.16,106.37 741.66,104.84 742.4,103.14 742.91,101.5 743.01,100.31 743.4,98.99 743.55,97.7 743.85,96.43 743.96,94.95 744.04,93.68 744.37,92.21 745.28,91.15 745.99,89.92 746.53,89 747.33,90.69 747.97,92.24 749.05,94.81 749.59,93.6 750.33,92.43 750.88,91.28 751.39,89.74 751.7,88.13 752.15,86.48 753.23,84.72 753.93,85.87 754.31,86.92 754.54,88.29 754.63,89.57 755.12,90.72 755.32,92.17 755.57,93.51 756.03,95.03 756.48,96.35 757.68,94.85 758.35,96.16 758.98,97.76 759.41,99.12 759.9,100.63 760.42,102 760.96,100.33 761.38,98.96 761.79,97.59 762.29,96.08 762.88,94.48 763.52,92.9 764.09,91.43 764.69,89.95 765.57,88.92 766.14,90.74 766.86,92.33 767.03,93.95 767.09,95.7 767.11,97.19 767.25,98.79 767.13,100.49 766.9,102.09 766.99,103.51 766.81,104.99 766.72,106.71 767.54,105.27 768.43,103.87 769.55,102.65 770.18,101.3 770.86,99.76 771.67,98.59 772.37,97.23 772.89,95.85 773.49,94.59 773.96,93.41 774.33,91.9 774.94,90.76 775.35,89.59 775.82,88.44 776.15,87.24 776.81,85.86 777.98,84.07 778.43,85.31 778.97,86.94 778.93,88.42 778.77,89.77 778.8,90.94 778.69,92.24 778.54,93.99 778.53,95.5 778.12,97.18 778.84,95.73 779.46,94.24 779.88,92.93 780.51,91.56 780.74,90.49 781.18,89.34 781.8,87.88 782.15,86.62 782.54,85.41 783.26,84.29 783.71,82.91 784.14,81.58 784.81,80.06 785.38,78.66 786.11,79.93 786.97,81.5 786.84,82.81 786.82,84.22 786.77,85.87 786.68,87.25 786.68,88.75 786.79,90.09 786.58,91.53 786.51,93.09 786.26,94.37 786.16,95.82 786.22,97.4 786.06,98.67 785.84,100.03 785.72,101.67 785.83,100.19 786.07,99.02 786.32,97.6 786.46,96.35 786.82,95.07 787.09,93.75 787.17,92.29 787.47,90.76 787.78,89.5 787.84,87.93 787.92,86.52 788.33,84.93 788.33,83.63 788.64,82.2 788.92,80.96 789.36,79.47 789.56,78.26 789.84,77.03 790.22,75.74 790.68,74.19 791.36,72.75 792.17,75.2 792.37,76.44 792.56,78 792.6,79.49 792.64,80.98 792.54,82.24 792.64,83.77 792.8,84.97 792.91,86.39 793.16,87.85 793.27,89.09 793.43,90.54 793.43,91.85 793.58,93.33 793.72,94.72 793.94,93.36 794.37,91.79 794.34,90.54 794.56,89 794.98,87.5 795.34,85.87 795.62,84.56 795.99,83 796.18,81.36 797.27,79.92 798.07,78.41 798.54,79.85 799.24,81.3 798.88,82.9 798.79,84.14 798.43,85.53 798.29,87.1 797.94,88.62 797.49,89.85 797.29,91.37 798.01,90.2 798.61,88.94 799.41,87.65 800.26,86.29 801.18,84.77 801.92,83.53 802.72,81.97 805.1,81.22 806.89,81.24 807.66,79.86 808.48,78.44 809.39,77.41 810.29,76.16 811.31,74.81 812.63,73.59 813.68,72.51 814.01,71.83 815.93,71.06 817.24,70.48 817.64,71.9 817.68,73.44 818.49,74.39 818.16,76.88 818.21,78.64 818.07,79.58 818.21,81.52 817.74,82.8 817.95,83.77 817.94,85.45 817.4,86.44 816.3,87.45 816.64,88.7 816.1,90.58 815.28,92.72 815.34,94.36 814.48,95.85 814.42,98.06 813.36,98.91 813.2,100.3 811.85,102.41 811.45,103.94 811.51,104.72 810.67,107.1 809.31,108.53 808.39,109.43 807.34,111.4 806.3,111.47 805.05,113.15 804.14,113.57 803.16,115.05 802.1,116.52 801.57,117.72 800.99,118.68 798.5,119.7 796.41,120.39 795.17,121.08 793.15,121.3 792.25,121.83 789.44,122.6 788.79,122.83 787,123.88 785.6,124.18 783.9,125.96 782.66,125.9 781.04,126.17 779.2,127.75 778.5,127.77 776.58,128.36 774.96,129.6 773.82,130.34 772.58,131.31 770.92,130.7 769.1,131.82 767.74,132.5 766.31,132.06 766,132.93 764.17,133.62 762.34,133.82 761.26,134.48 760.37,134.65 758.36,134.61 757.82,134.51 755.85,135.07 755.21,134.5 753.53,135.07 752,135.56 749.91,135.03 748.53,134.93 746.81,133.26 745.65,132.21 745.72,130.55 745.23,129.53 744.33,127.95 744.59,126.19 744.35,124.95 744.06,123.95 743,125.15 742.71,126.02 742.29,127.7 742.6,128.95 741.55,127.65 739.98,126.49"/>
<circle cx="814.77" cy="71.14" r="0.98"/><circle cx="815.92" cy="71.13" r="0.97"/><circle cx="815.83" cy="70.62" r="0.71"/><circle cx="817.38" cy="70.41" r="1"/><circle cx="817.5" cy="71.68" r="1.11"/><circle cx="818.43" cy="72.91" r="1.19"/><circle cx="818.25" cy="75.82" r="0.96"/><circle cx="818.14" cy="76.64" r="1.04"/><circle cx="818.28" cy="75.23" r="0.9"/><circle cx="818.25" cy="80.15" r="1.14"/><circle cx="818.11" cy="77.64" r="0.8"/><circle cx="818.19" cy="80.14" r="0.71"/><circle cx="817.96" cy="82.5" r="0.71"/><circle cx="818.29" cy="82.56" r="0.83"/><circle cx="817.83" cy="82.98" r="0.84"/><circle cx="817.11" cy="86.4" r="0.91"/><circle cx="816.73" cy="87.84" r="0.87"/><circle cx="816.68" cy="87.41" r="0.98"/><circle cx="815.83" cy="90.79" r="0.73"/><circle cx="815.18" cy="92.26" r="0.97"/><circle cx="816.14" cy="90.95" r="0.86"/><circle cx="815.11" cy="93.06" r="1"/><circle cx="814.66" cy="94.96" r="1.05"/><circle cx="815.24" cy="94.17" r="0.87"/><circle cx="813.97" cy="98.4" r="1.09"/><circle cx="814.51" cy="96.2" r="1.05"/><circle cx="813.9" cy="96.82" r="1.06"/><circle cx="812.19" cy="103.52" r="0.73"/><circle cx="811.48" cy="104.34" r="0.94"/><circle cx="812" cy="101.82" r="1.07"/><circle cx="810.61" cy="106.86" r="0.97"/><circle cx="808.78" cy="108.02" r="0.97"/><circle cx="811.48" cy="105.08" r="0.99"/><circle cx="808.46" cy="108.91" r="0.84"/><circle cx="808.91" cy="108.77" r="0.74"/><circle cx="806.73" cy="110.74" r="0.84"/><circle cx="805.99" cy="112.53" r="0.75"/><circle cx="805.54" cy="112.58" r="0.88"/><circle cx="806.09" cy="112.66" r="0.94"/><circle cx="804.03" cy="114.58" r="0.92"/><circle cx="803.56" cy="114.85" r="1.02"/><circle cx="802.5" cy="116.08" r="1.13"/><circle cx="801.73" cy="117.54" r="0.98"/><circle cx="801.37" cy="118.33" r="1.05"/><circle cx="800.38" cy="119.23" r="0.88"/><circle cx="798.54" cy="119.8" r="0.79"/><circle cx="799.16" cy="119.87" r="0.88"/><circle cx="798.51" cy="119.53" r="0.98"/><circle cx="795.5" cy="121.29" r="0.98"/><circle cx="796.07" cy="120.86" r="1.02"/><circle cx="796.1" cy="120.84" r="0.96"/><circle cx="794.48" cy="121.59" r="1.04"/><circle cx="792.56" cy="121.63" r="1.18"/><circle cx="792.32" cy="121.72" r="0.95"/><circle cx="792.1" cy="122.2" r="1"/><circle cx="791.12" cy="121.93" r="0.9"/><circle cx="791.43" cy="121.99" r="1"/><circle cx="787.23" cy="123.55" r="0.71"/><circle cx="787.45" cy="123.78" r="0.71"/><circle cx="789.05" cy="123.4" r="0.72"/><circle cx="786.14" cy="124.63" r="0.81"/><circle cx="785.4" cy="125.56" r="0.75"/><circle cx="785.91" cy="124.33" r="0.81"/><circle cx="784.48" cy="125.57" r="1.07"/><circle cx="781.93" cy="126.19" r="0.99"/><circle cx="781.68" cy="126.75" r="0.91"/><circle cx="777.57" cy="128.46" r="0.95"/><circle cx="778.81" cy="127.99" r="1.12"/><circle cx="777.88" cy="128.14" r="1.08"/><circle cx="776.36" cy="129.34" r="0.97"/><circle cx="775.32" cy="129.66" r="0.78"/><circle cx="774.85" cy="130.08" r="0.76"/><circle cx="768.49" cy="132.5" r="0.79"/><circle cx="769.56" cy="131.91" r="1.05"/><circle cx="771.7" cy="131.13" r="0.93"/><circle cx="764.01" cy="133.96" r="0.87"/><circle cx="763.08" cy="133.6" r="1"/><circle cx="766.8" cy="132.41" r="1.06"/><circle cx="758.93" cy="134.46" r="0.72"/><circle cx="759.28" cy="134.85" r="0.97"/><circle cx="757.98" cy="135.1" r="1.11"/><circle cx="754.46" cy="134.78" r="1.05"/><circle cx="753.88" cy="135.24" r="0.93"/><circle cx="752.31" cy="134.99" r="1.18"/><circle cx="749.82" cy="135.37" r="0.92"/><circle cx="751.46" cy="135.25" r="0.89"/><circle cx="749.22" cy="135.34" r="0.81"/><circle cx="748.38" cy="134.19" r="1.06"/><circle cx="748.07" cy="134.42" r="0.82"/><circle cx="747.31" cy="134.12" r="0.78"/><circle cx="746.49" cy="133.61" r="0.97"/><circle cx="745.41" cy="129.52" r="0.83"/><circle cx="745.58" cy="131.68" r="1.08"/>
<rect x="880" y="176.1" width="60" height="1.6"/>
<rect x="928" y="175.3" width="12" height="3.2"/>
<circle cx="559.4" cy="183.84" r="0.96"/><circle cx="646.08" cy="165.95" r="0.64"/><circle cx="589.77" cy="177.35" r="0.77"/><circle cx="592.9" cy="176.08" r="0.95"/><circle cx="554.31" cy="184.06" r="0.72"/><circle cx="618.18" cy="170.88" r="0.86"/><circle cx="564.3" cy="182.47" r="0.93"/><circle cx="622.68" cy="170.45" r="0.89"/><circle cx="627" cy="170.2" r="0.66"/><circle cx="571.86" cy="180.48" r="0.73"/><circle cx="479.98" cy="209.69" r="0.79"/><circle cx="661.54" cy="161.43" r="0.63"/><circle cx="509.26" cy="196.43" r="0.95"/><circle cx="609.87" cy="172.72" r="0.99"/><circle cx="702.23" cy="158.78" r="0.77"/><circle cx="678.62" cy="160.81" r="0.78"/><circle cx="665.65" cy="160.95" r="0.81"/><circle cx="671.47" cy="161.38" r="0.8"/><circle cx="629.03" cy="169.11" r="0.99"/><circle cx="625.65" cy="169.95" r="0.82"/><circle cx="503.33" cy="197.72" r="0.7"/><circle cx="680.02" cy="160.53" r="0.7"/><circle cx="663.98" cy="161.75" r="0.91"/><circle cx="484.69" cy="205.45" r="0.94"/><circle cx="613.95" cy="171.86" r="0.82"/><circle cx="671.18" cy="161.01" r="0.67"/><circle cx="494.66" cy="202.1" r="0.76"/><circle cx="676.91" cy="160.43" r="0.89"/><circle cx="572.97" cy="180.43" r="0.84"/><circle cx="646.49" cy="166.24" r="0.69"/><circle cx="651.54" cy="163.81" r="0.82"/><circle cx="718.81" cy="150.33" r="0.87"/><circle cx="532.66" cy="190.96" r="0.75"/><circle cx="658.49" cy="161.62" r="0.9"/><circle cx="655.05" cy="163.22" r="0.96"/><circle cx="590.41" cy="176.1" r="0.97"/><circle cx="737.59" cy="137.43" r="0.7"/><circle cx="605.03" cy="173.77" r="0.66"/><circle cx="538.63" cy="189.28" r="0.84"/><circle cx="583.52" cy="178.32" r="0.88"/><circle cx="544.28" cy="187.55" r="0.61"/><circle cx="703.61" cy="158.77" r="0.75"/><circle cx="553.86" cy="185.06" r="0.82"/><circle cx="513.19" cy="195.16" r="0.76"/><circle cx="706.5" cy="157.23" r="0.97"/><circle cx="536.93" cy="188.97" r="0.62"/><circle cx="510.44" cy="195.63" r="0.75"/><circle cx="663.57" cy="161.4" r="0.69"/><circle cx="636.16" cy="168.53" r="0.91"/><circle cx="524.7" cy="193.2" r="0.92"/><circle cx="676.46" cy="160.65" r="0.68"/><circle cx="512.88" cy="195.19" r="0.88"/><circle cx="573.76" cy="180.03" r="0.71"/><circle cx="519.09" cy="194.13" r="0.9"/><circle cx="590.1" cy="176.83" r="0.66"/><circle cx="536.51" cy="189.08" r="0.66"/><circle cx="623.43" cy="170.73" r="0.97"/><circle cx="661.01" cy="161.94" r="0.93"/><circle cx="587.19" cy="177.66" r="0.7"/><circle cx="705.32" cy="158.04" r="0.71"/><circle cx="713.21" cy="154.1" r="0.66"/><circle cx="587.44" cy="176.85" r="0.93"/><circle cx="558.11" cy="184.41" r="0.81"/><circle cx="620.93" cy="170.92" r="0.68"/><circle cx="544.35" cy="187.67" r="0.91"/><circle cx="705.68" cy="157.75" r="0.77"/><circle cx="510.47" cy="195.61" r="0.64"/><circle cx="662.82" cy="161.77" r="0.82"/><circle cx="547.61" cy="187.05" r="0.97"/><circle cx="568.73" cy="180.92" r="0.83"/><circle cx="534.27" cy="189.92" r="0.72"/><circle cx="635.36" cy="168.78" r="0.82"/><circle cx="487.63" cy="204.57" r="0.66"/><circle cx="619.92" cy="170.78" r="0.84"/><circle cx="640.68" cy="167.36" r="0.91"/><circle cx="506.57" cy="197.06" r="0.95"/><circle cx="720.8" cy="149.36" r="0.82"/><circle cx="590.52" cy="176.84" r="0.66"/><circle cx="602.64" cy="174.43" r="0.96"/><circle cx="612.52" cy="171.36" r="0.98"/><circle cx="574.08" cy="179.87" r="0.82"/><circle cx="679.53" cy="160.95" r="0.69"/><circle cx="482.84" cy="207.27" r="0.94"/><circle cx="625.13" cy="170.24" r="0.65"/><circle cx="613.26" cy="172" r="0.98"/><circle cx="491.07" cy="203.24" r="0.66"/><circle cx="632.61" cy="169.16" r="0.97"/><circle cx="529.17" cy="191.44" r="0.62"/><circle cx="617.58" cy="171.09" r="0.76"/><circle cx="708.33" cy="156.5" r="0.71"/><circle cx="660.52" cy="193.83" r="0.96"/><circle cx="545.02" cy="202.96" r="0.72"/><circle cx="528.37" cy="209.41" r="0.75"/><circle cx="508.53" cy="217.48" r="0.84"/><circle cx="566.67" cy="199.19" r="0.6"/><circle cx="489.48" cy="221.58" r="0.93"/><circle cx="707.05" cy="189.11" r="0.77"/><circle cx="697.77" cy="187.97" r="0.72"/><circle cx="730.47" cy="185.39" r="0.62"/><circle cx="636.64" cy="196.2" r="0.99"/><circle cx="668.37" cy="194.27" r="0.98"/><circle cx="716.5" cy="187.5" r="0.71"/><circle cx="681.57" cy="191.79" r="0.76"/><circle cx="681.27" cy="191.71" r="0.83"/><circle cx="720.23" cy="187.25" r="0.67"/><circle cx="550.01" cy="201.99" r="0.95"/><circle cx="546.56" cy="203.19" r="0.83"/><circle cx="557.26" cy="200.87" r="0.6"/><circle cx="508.6" cy="217.31" r="0.98"/><circle cx="551.54" cy="202.57" r="0.97"/><circle cx="593.9" cy="199.24" r="0.93"/><circle cx="656.95" cy="194.4" r="0.71"/><circle cx="505.73" cy="218" r="0.68"/><circle cx="628.46" cy="196.85" r="0.73"/><circle cx="534.43" cy="206.52" r="0.6"/><circle cx="479.89" cy="224.49" r="0.82"/><circle cx="485.25" cy="221.86" r="0.79"/><circle cx="641.14" cy="195.22" r="0.82"/><circle cx="534.6" cy="206.79" r="0.93"/><circle cx="724" cy="187.37" r="0.99"/><circle cx="574.72" cy="197.76" r="0.91"/><circle cx="521.88" cy="212.1" r="0.69"/><circle cx="596.75" cy="199.97" r="0.73"/><circle cx="478.44" cy="226.62" r="0.76"/><circle cx="709.41" cy="190.18" r="0.84"/><circle cx="699.42" cy="188.31" r="0.73"/><circle cx="638.09" cy="196.75" r="0.83"/><circle cx="566.95" cy="198.85" r="0.86"/><circle cx="670.66" cy="195.18" r="0.75"/><circle cx="666.89" cy="194.34" r="0.74"/><circle cx="538.94" cy="204.54" r="0.67"/><circle cx="552.05" cy="201.72" r="0.72"/><circle cx="575.8" cy="198.27" r="0.81"/><circle cx="622.71" cy="198.22" r="0.76"/><circle cx="622.3" cy="197.64" r="0.8"/><circle cx="570.3" cy="198.5" r="0.67"/><circle cx="533.76" cy="206.85" r="0.62"/><circle cx="587.38" cy="199.89" r="0.83"/><circle cx="507.73" cy="217.08" r="0.85"/><circle cx="591.23" cy="199.54" r="0.92"/><circle cx="657.24" cy="194.02" r="0.71"/><circle cx="674.97" cy="192.91" r="0.75"/><circle cx="536.68" cy="206.48" r="0.65"/><circle cx="543.92" cy="203.32" r="0.97"/><circle cx="490.87" cy="221.66" r="0.87"/><circle cx="684.42" cy="191.35" r="0.99"/><circle cx="561.73" cy="199.74" r="0.6"/><circle cx="548.6" cy="202.23" r="0.85"/><circle cx="714.01" cy="189.96" r="0.96"/><circle cx="632.76" cy="196.21" r="0.76"/><circle cx="496.46" cy="220.93" r="0.85"/><circle cx="492.74" cy="221.13" r="0.8"/><circle cx="693.79" cy="195.77" r="0.77"/><circle cx="638.77" cy="195.41" r="0.89"/><circle cx="656.96" cy="194" r="0.85"/><circle cx="599.04" cy="198.68" r="0.97"/><circle cx="617.41" cy="196.43" r="0.79"/><circle cx="607.65" cy="197.01" r="0.87"/><circle cx="636.07" cy="196.09" r="0.8"/><circle cx="735.27" cy="183.59" r="0.93"/><circle cx="624.02" cy="198.39" r="0.77"/><circle cx="590.22" cy="199.51" r="0.77"/><circle cx="545.14" cy="203.41" r="0.64"/><circle cx="651.74" cy="194.2" r="0.88"/><circle cx="529.08" cy="208.83" r="0.79"/><circle cx="656.02" cy="193.82" r="0.76"/><circle cx="633.22" cy="196.05" r="0.62"/><circle cx="611.58" cy="195.76" r="0.97"/><circle cx="664.23" cy="193.94" r="0.65"/><circle cx="648.38" cy="194.59" r="0.91"/><circle cx="797.39" cy="168.21" r="0.88"/><circle cx="850.33" cy="170.99" r="0.76"/><circle cx="866.61" cy="172.06" r="0.68"/><circle cx="867.02" cy="171.98" r="0.88"/><circle cx="754.53" cy="162.49" r="0.79"/><circle cx="745.94" cy="160.91" r="0.97"/><circle cx="816.76" cy="168.3" r="0.83"/><circle cx="873" cy="170.51" r="0.89"/><circle cx="862.63" cy="171.88" r="0.62"/><circle cx="785.95" cy="159.96" r="0.83"/><circle cx="800.65" cy="168.73" r="0.95"/><circle cx="835.79" cy="165.42" r="0.72"/><circle cx="808.21" cy="168.74" r="0.85"/><circle cx="775.03" cy="161.48" r="0.96"/><circle cx="854.46" cy="171.13" r="0.8"/><circle cx="787.41" cy="167.77" r="0.74"/><circle cx="875.88" cy="168.37" r="0.96"/><circle cx="810.92" cy="168.43" r="0.86"/><circle cx="869.51" cy="170.44" r="0.92"/><circle cx="782.16" cy="159.1" r="0.74"/><circle cx="839.07" cy="167.98" r="0.68"/><circle cx="757.35" cy="162.67" r="0.96"/><circle cx="882.06" cy="174.14" r="0.9"/><circle cx="838.58" cy="167.15" r="0.78"/><circle cx="815.26" cy="168.16" r="0.74"/><circle cx="792.39" cy="167.97" r="0.86"/><circle cx="776.22" cy="161.25" r="0.91"/><circle cx="872.91" cy="169.64" r="0.91"/><circle cx="769.71" cy="162.07" r="0.92"/><circle cx="774.35" cy="161.81" r="0.79"/><circle cx="824.88" cy="166.71" r="0.9"/><circle cx="835.73" cy="165.57" r="0.78"/><circle cx="822.35" cy="167.45" r="0.63"/><circle cx="846.28" cy="170.72" r="0.91"/><circle cx="803.28" cy="168.82" r="0.88"/><circle cx="855.53" cy="170.77" r="0.99"/><circle cx="747.98" cy="161.17" r="0.91"/><circle cx="845.59" cy="170.53" r="0.64"/><circle cx="824.51" cy="166.52" r="0.74"/><circle cx="795.11" cy="167.98" r="0.71"/><circle cx="855.75" cy="171.46" r="0.9"/><circle cx="768.35" cy="162.71" r="0.92"/><circle cx="827.02" cy="166.31" r="0.99"/><circle cx="839.72" cy="168.13" r="0.79"/><circle cx="825.07" cy="166.65" r="0.72"/><circle cx="854.24" cy="171.41" r="0.93"/><circle cx="877.53" cy="169.83" r="0.76"/><circle cx="841.13" cy="169.68" r="0.86"/><circle cx="874.46" cy="170.28" r="0.71"/><circle cx="748.69" cy="161.29" r="0.91"/><circle cx="802.06" cy="186.17" r="0.8"/><circle cx="868.12" cy="182.45" r="0.71"/><circle cx="846.37" cy="183.05" r="0.84"/><circle cx="777.01" cy="184.81" r="0.87"/><circle cx="824.07" cy="186.51" r="0.74"/><circle cx="869.22" cy="182.75" r="0.85"/><circle cx="789.93" cy="184.83" r="0.68"/><circle cx="866.14" cy="182.09" r="0.79"/><circle cx="854.59" cy="182.65" r="0.69"/><circle cx="854.63" cy="183.07" r="0.84"/><circle cx="797.24" cy="185.75" r="0.68"/><circle cx="838.94" cy="183.58" r="0.72"/><circle cx="756.67" cy="185.33" r="1"/><circle cx="796.1" cy="185.72" r="0.76"/><circle cx="878.47" cy="185.02" r="0.76"/><circle cx="773.63" cy="184.79" r="0.66"/><circle cx="808.32" cy="189.26" r="0.79"/><circle cx="766.32" cy="184.8" r="0.84"/><circle cx="790.37" cy="185.15" r="0.76"/><circle cx="795.72" cy="186.07" r="0.63"/><circle cx="771.73" cy="185" r="0.66"/><circle cx="879.05" cy="185.43" r="0.97"/><circle cx="793.34" cy="185.77" r="0.73"/><circle cx="793.43" cy="185.24" r="0.89"/><circle cx="810.03" cy="189.59" r="0.65"/><circle cx="808.07" cy="189.38" r="0.72"/><circle cx="765.48" cy="185.43" r="0.81"/><circle cx="812.06" cy="188.99" r="0.87"/><circle cx="801.2" cy="186.28" r="0.6"/><circle cx="821.82" cy="186.86" r="0.88"/><circle cx="795.7" cy="185.68" r="0.7"/><circle cx="853.15" cy="182.95" r="0.95"/><circle cx="781.19" cy="184.37" r="0.65"/><circle cx="844.98" cy="183.29" r="0.81"/><circle cx="881.09" cy="183.96" r="0.7"/><circle cx="757.4" cy="185.52" r="0.92"/><circle cx="757.2" cy="185.05" r="0.88"/><circle cx="749.55" cy="184.9" r="0.64"/><circle cx="863.85" cy="182.13" r="0.99"/><circle cx="852.11" cy="182.79" r="0.69"/><circle cx="841.12" cy="183.67" r="0.73"/><circle cx="773.88" cy="184.6" r="0.72"/><circle cx="780.3" cy="184.29" r="0.75"/><circle cx="820.71" cy="188.21" r="0.92"/><circle cx="837.23" cy="184.12" r="0.97"/><circle cx="811.3" cy="68.1" r="1.5"/><circle cx="753.3" cy="84.6" r="1.6"/><circle cx="800.5" cy="119.5" r="1.3"/><circle cx="784.3" cy="126" r="1.3"/><circle cx="517.8" cy="190" r="1.3"/><circle cx="514" cy="194.5" r="1.1"/><circle cx="785.6" cy="161" r="1.5"/><circle cx="692" cy="196" r="1.2"/><circle cx="695" cy="193.5" r="1.2"/>
</g>
<g id="inset-labels" fill="#262626" font-family='"Liberation Sans", sans-serif'>
<text x="464" y="193.9" font-size="43" text-anchor="end" transform="matrix(1 0 0 1.04 0 -7.76)">0</text>
<text x="466" y="139" font-size="43" text-anchor="end" transform="matrix(1 0 0 1.04 0 -5.56)">1</text>
<text x="464" y="84.1" font-size="43" text-anchor="end" transform="matrix(1 0 0 1.04 0 -3.36)">2</text>
<text x="474.8" y="283.2" font-size="43" text-anchor="middle" transform="matrix(1 0 0 1.04 0 -11.33)">-4000</text>
<text x="607.8" y="283.2" font-size="43" text-anchor="middle" transform="matrix(1 0 0 1.04 0 -11.33)">0</text>
<text x="739.2" y="283.2" font-size="43" text-anchor="middle" transform="matrix(1 0 0 1.04 0 -11.33)">4000</text>
<text x="871" y="283.2" font-size="43" text-anchor="middle" transform="matrix(1 0 0 1.04 0 -11.33)">8000</text>
<text font-size="46.6"><tspan x="624" y="358">x [c/ω</tspan><tspan x="747.6" y="380.6" font-size="37.7">p</tspan><tspan x="768.8" y="358">]</tspan></text>
<text transform="translate(379.1 243) rotate(-90)" font-size="46.6"><tspan x="0" y="0">p</tspan><tspan x="27.5" y="24.4" font-size="37.7">x</tspan><tspan x="60.1" y="0">[m</tspan><tspan x="113.1" y="24.4" font-size="37.7">i</tspan><tspan x="134.8" y="0">c]</tspan></text>
</g>
<g id="serif-trim" fill="#fff"><rect x="54.53" y="747.19" width="10.85" height="6.71"/><rect x="69.94" y="747.19" width="10.44" height="6.71"/><rect x="54.53" y="515.69" width="10.85" height="6.71"/><rect x="69.94" y="515.69" width="10.44" height="6.71"/><rect x="54.53" y="284.19" width="10.85" height="6.71"/><rect x="69.94" y="284.19" width="10.44" height="6.71"/><rect x="54.53" y="52.69" width="10.85" height="6.71"/><rect x="69.94" y="52.69" width="10.44" height="6.71"/><rect x="195.33" y="801.09" width="10.85" height="6.71"/><rect x="210.74" y="801.09" width="10.44" height="6.71"/><rect x="379.53" y="801.09" width="10.85" height="6.71"/><rect x="394.94" y="801.09" width="10.44" height="6.71"/><rect x="450.72" y="776.42" width="9.09" height="5.93"/><rect x="463.49" y="776.42" width="8.77" height="5.93"/><rect x="571.93" y="801.09" width="10.85" height="6.71"/><rect x="587.34" y="801.09" width="10.44" height="6.71"/><rect x="756.13" y="801.09" width="10.85" height="6.71"/><rect x="771.54" y="801.09" width="10.44" height="6.71"/><rect x="813.27" y="776.42" width="9.09" height="5.93"/><rect x="826.04" y="776.42" width="8.77" height="5.93"/><rect x="940.33" y="801.09" width="10.85" height="6.71"/><rect x="955.74" y="801.09" width="10.44" height="6.71"/><rect x="443.56" y="134.56" width="9.34" height="6.04"/><rect x="456.7" y="134.56" width="9" height="6.04"/></g>
</svg></body></html>
